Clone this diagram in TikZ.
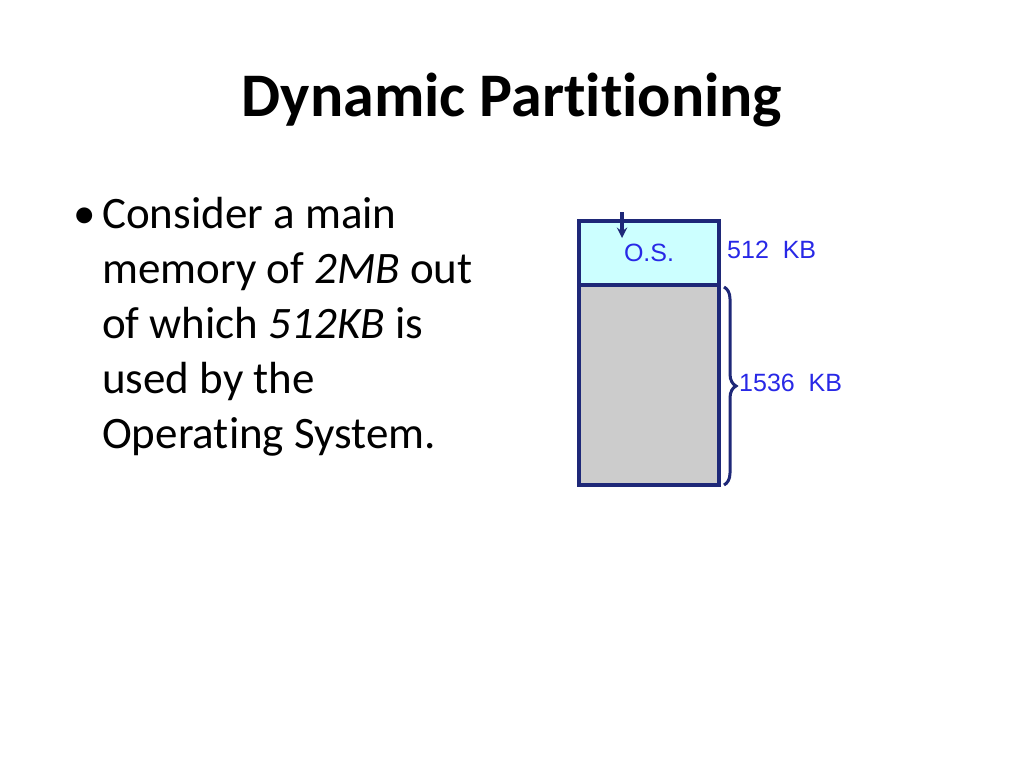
\documentclass[tikz,border=0pt]{standalone}
\usepackage{fontspec}
\setmainfont[Ligatures=NoCommon]{Carlito}
\newfontfamily\arialf{Liberation Sans}
\usetikzlibrary{decorations.pathreplacing}
\definecolor{dblue}{RGB}{30,40,120}
\definecolor{lblue}{RGB}{40,40,230}
\definecolor{oscol}{RGB}{204,255,255}
\definecolor{grayc}{RGB}{204,204,204}
\tikzset{x=1pt,y=-1pt,
  body/.style={anchor=base west,font=\fontsize{45}{52}\selectfont,inner sep=0},
  lab/.style={anchor=west,font=\arialf\fontsize{25}{28}\selectfont,text=lblue,inner sep=0}}
\begin{document}
\begin{tikzpicture}
\useasboundingbox (0,0) rectangle (1024,768);
\node (title) at (512,100) {\fontsize{62}{70}\selectfont\bfseries Dynamic Partitioning};
\node[body] (b) at (73,228) {\textbullet};
\node[body] (l1) at (102,228) {Consider a main};
\node[body] (l2) at (102,283) {memory of \textit{2MB} out};
\node[body] (l3) at (102,338) {of which \textit{512KB} is};
\node[body] (l4) at (102,393) {used by the};
\node[body] (l5) at (102,448) {Operating System.};
\draw[dblue,line width=4pt,fill=oscol] (579,221) rectangle (719,285);
\draw[dblue,line width=4pt,fill=grayc] (579,285) rectangle (719,485);
\node[font=\arialf\fontsize{25}{28}\selectfont,text=lblue] (os) at (649,253) {O.S.};
\coordinate (a1) at (622,212);
\coordinate (a2) at (622,238);
\draw[dblue,line width=3.5pt,-stealth] (a1) -- (a2);
\node[lab] (k1) at (727,250) {512\ \ KB};
\node[lab] (k2) at (739,383) {1536\ \ KB};
\coordinate (br1) at (724,287);
\coordinate (br2) at (724,485);
\draw[dblue,line width=3pt,decorate,decoration={brace,amplitude=12pt}] (br1) -- (br2);
\end{tikzpicture}
\end{document}
